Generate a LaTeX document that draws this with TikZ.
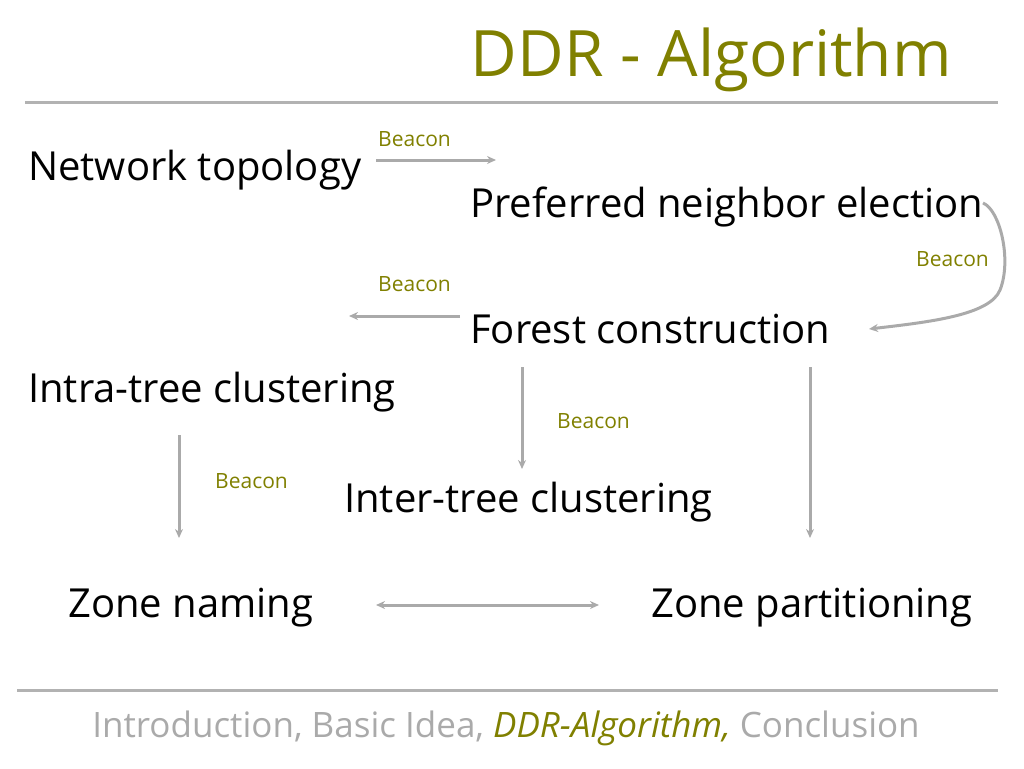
\documentclass[tikz,border=0pt]{standalone}
\usepackage{fontspec}
\setmainfont{Open Sans}
\usetikzlibrary{arrows.meta}
\definecolor{olive}{RGB}{128,128,0}
\definecolor{rulegray}{RGB}{178,178,178}
\definecolor{arrgray}{RGB}{170,170,170}
\definecolor{footgray}{RGB}{170,170,170}
\tikzset{
  main/.style={inner sep=0pt,anchor=base west,font=\fontsize{40}{46}\selectfont},
  beacon/.style={inner sep=0pt,anchor=base west,text=olive,font=\fontsize{21}{24}\selectfont},
  flow/.style={draw=arrgray,line width=3pt,-{Stealth[length=9pt,width=8pt]}},
  rulel/.style={draw=rulegray,line width=3pt}
}
\begin{document}
\begin{tikzpicture}[x=1pt,y=-1pt]
\useasboundingbox (0,0) rectangle (1024,768);
\node[inner sep=0pt,anchor=base east,text=olive,font=\fontsize{64}{70}\selectfont] (title) at (952,77) {DDR - Algorithm};
\coordinate (r1a) at (25,102); \coordinate (r1b) at (998,102);
\draw[rulel] (r1a) -- (r1b);
\coordinate (r2a) at (17,690); \coordinate (r2b) at (998,690);
\draw[rulel] (r2a) -- (r2b);
\node[inner sep=0pt,anchor=base,font=\fontsize{35}{40}\selectfont] (foot) at (506,737)
 {{\color{footgray}Introduction, Basic Idea, }{\color{olive}\itshape DDR-Algorithm,}\ {\color{footgray}Conclusion}};

\node[main] (nt) at (28,180) {Network topology};
\node[main] (pne) at (470,217) {Preferred neighbor election};
\node[main] (fc) at (470,343) {Forest construction};
\node[main] (intra) at (28,402) {Intra-tree clustering};
\node[main] (inter) at (344,512) {Inter-tree clustering};
\node[main] (zn) at (68,617) {Zone naming};
\node[main] (zp) at (651,617) {Zone partitioning};

\node[beacon] (b1) at (378,146) {Beacon};
\node[beacon] (b2) at (916,266) {Beacon};
\node[beacon] (b3) at (378,291) {Beacon};
\node[beacon] (b4) at (557,428) {Beacon};
\node[beacon] (b5) at (215,488) {Beacon};

\coordinate (a1s) at (376,160); \coordinate (a1e) at (496,160);
\draw[flow] (a1s) -- (a1e);
\coordinate (a2s) at (983,203); \coordinate (a2e) at (869,329);
\draw[flow] (a2s) .. controls (1000,210) and (1012,260) .. (1000,290)
  .. controls (990,315) and (930,322) .. (a2e);
\coordinate (a3s) at (460,316); \coordinate (a3e) at (349,316);
\draw[flow] (a3s) -- (a3e);
\coordinate (a4s) at (522,367); \coordinate (a4e) at (522,469);
\draw[flow] (a4s) -- (a4e);
\coordinate (a5s) at (810,367); \coordinate (a5e) at (810,538);
\draw[flow] (a5s) -- (a5e);
\coordinate (a6s) at (179,435); \coordinate (a6e) at (179,538);
\draw[flow] (a6s) -- (a6e);
\coordinate (a7s) at (376,605); \coordinate (a7e) at (599,605);
\draw[flow,{Stealth[length=9pt,width=8pt]}-{Stealth[length=9pt,width=8pt]}] (a7s) -- (a7e);
\end{tikzpicture}
\end{document}
